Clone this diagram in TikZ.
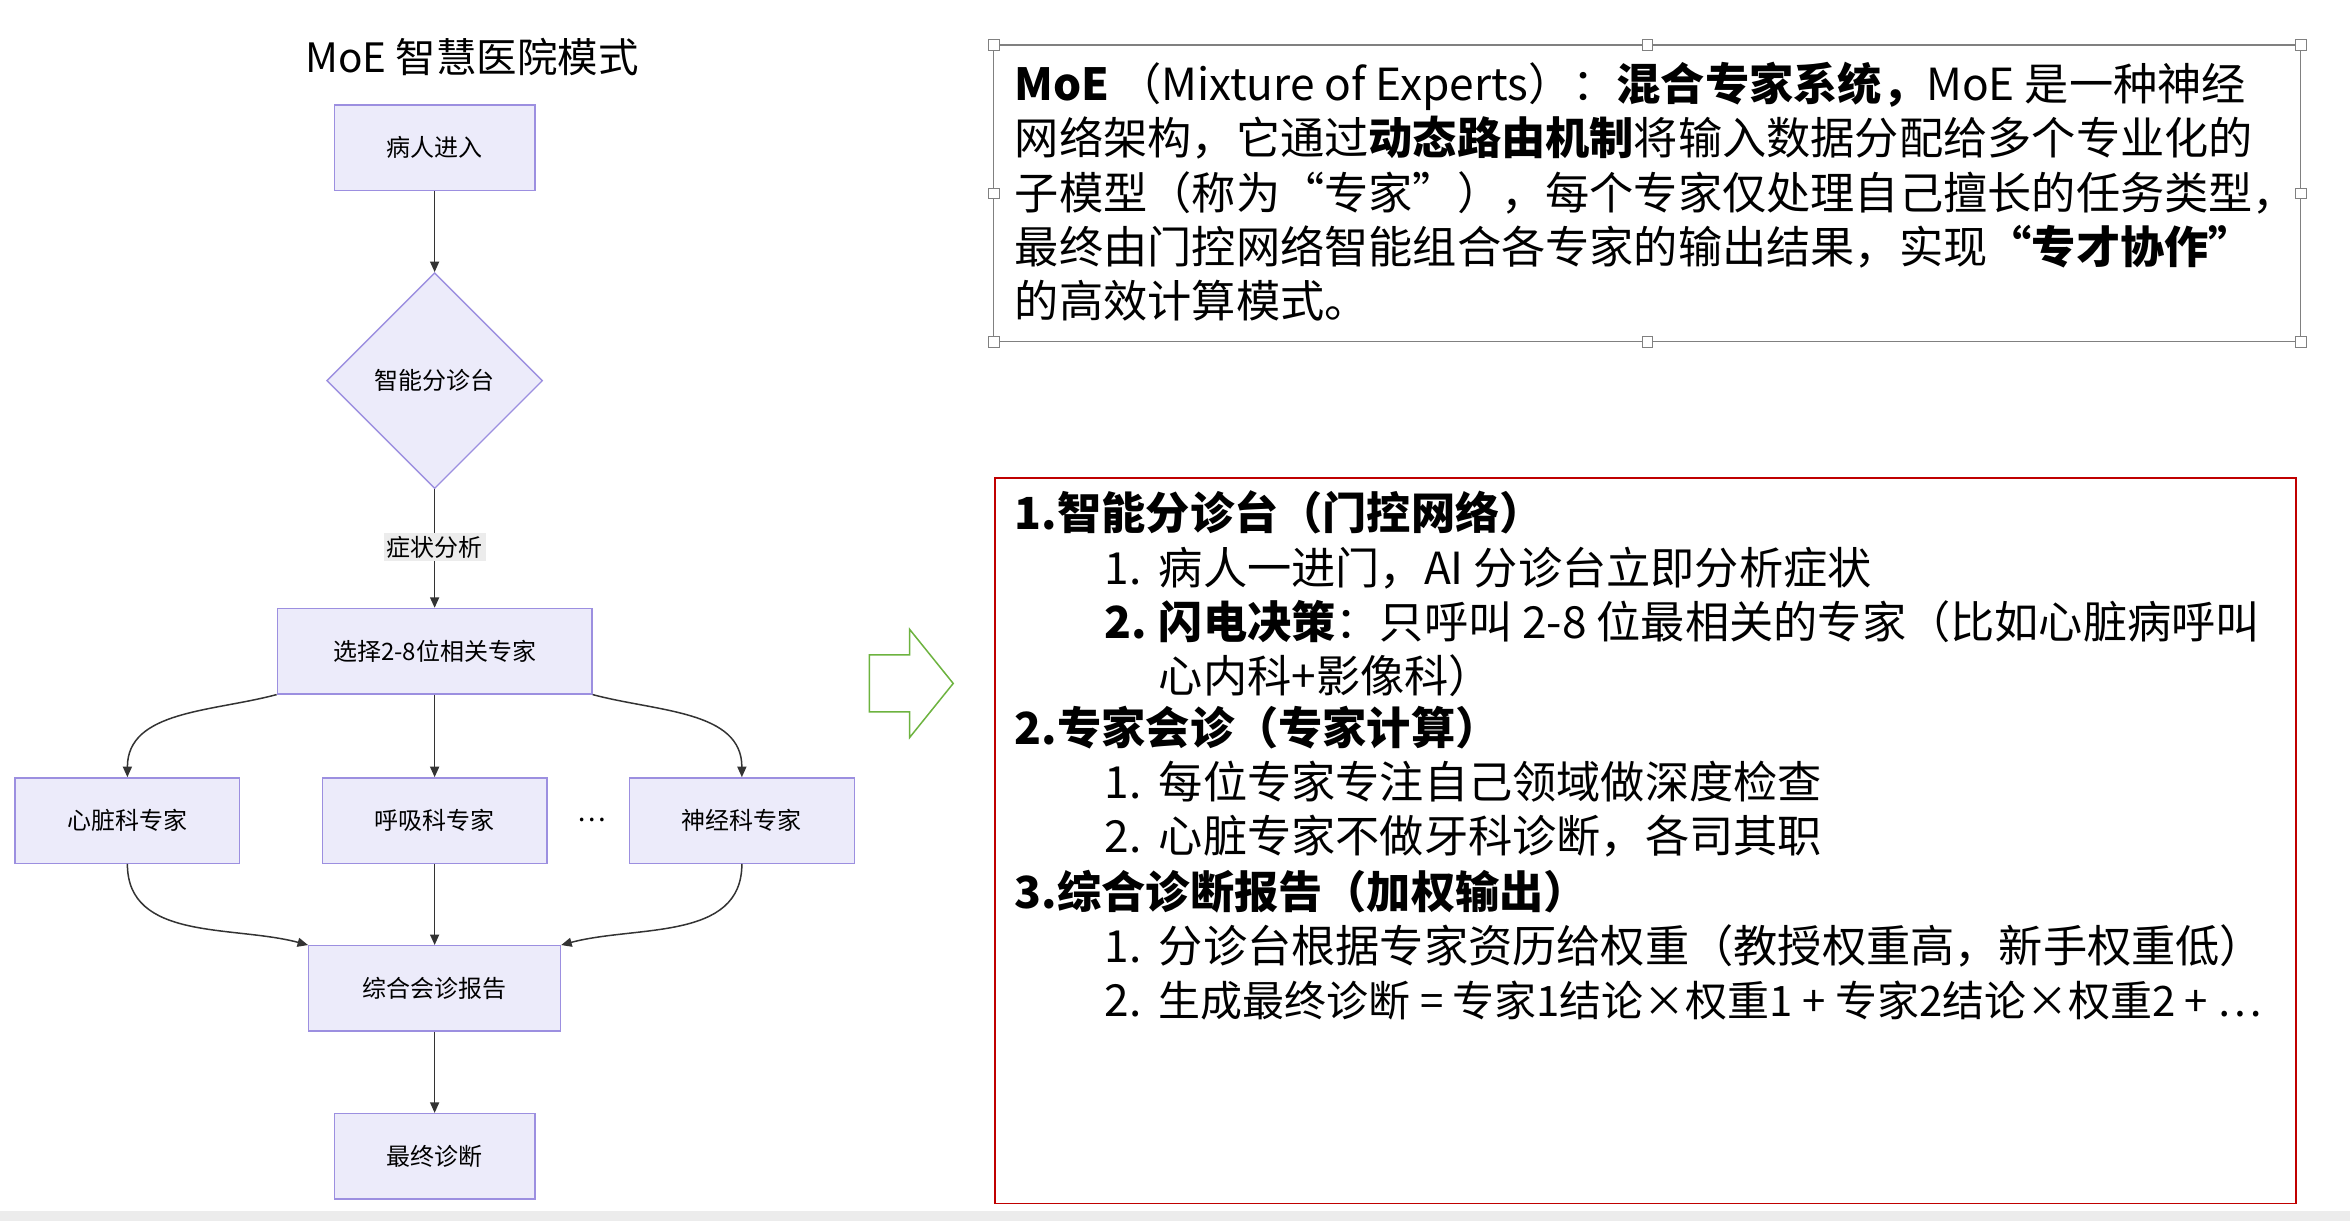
\documentclass[tikz,border=0pt]{standalone}
\usepackage{fontspec}
\setmainfont{Noto Sans CJK SC}
\usetikzlibrary{shapes.geometric,arrows.meta}
\begin{document}
\begin{tikzpicture}[x=1pt,y=-1pt,
  fbox/.style={draw=flowline,fill=flowfill,line width=0.9pt,minimum height=57pt,font=\fontsize{16}{18}\selectfont,inner sep=0pt},
  conn/.style={draw=arrowgray,line width=1pt,-{Triangle[length=7pt,width=6pt]}},
  tl/.style={anchor=base west,font=\fontsize{29.5}{34}\selectfont,inner sep=0pt},
  handle/.style={draw=gray,fill=white,minimum size=7pt,inner sep=0pt}]
\definecolor{flowline}{HTML}{9C8FE0}
\definecolor{flowfill}{HTML}{ECEBFA}
\definecolor{arrowgray}{HTML}{333333}
\definecolor{gr}{HTML}{6DB33F}
\definecolor{rd}{HTML}{C00000}
\useasboundingbox (0,0) rectangle (1568,815);
\fill[white] (0,0) rectangle (1568,815);
\fill[gray!15] (0,808) rectangle (1568,815);
\node[font=\fontsize{27}{30}\selectfont] (title) at (315,38) {MoE 智慧医院模式};
\node[fbox,minimum width=134pt] (a) at (290,98.5) {病人进入};
\node[fbox,diamond,minimum width=144pt,minimum height=144pt] (b) at (290,254) {智能分诊台};
\node[fbox,minimum width=210pt] (c) at (290,434.5) {选择2-8位相关专家};
\node[fill=gray!15,font=\fontsize{16}{18}\selectfont,inner sep=2pt] (lab) at (290,365) {症状分析};
\node[fbox,minimum width=150pt] (d1) at (85,547.5) {心脏科专家};
\node[fbox,minimum width=150pt] (d2) at (290,547.5) {呼吸科专家};
\node[fbox,minimum width=150pt] (d3) at (495,547.5) {神经科专家};
\node[font=\fontsize{18}{20}\selectfont] (dots) at (395,547) {…};
\node[fbox,minimum width=168pt] (e) at (290,659.5) {综合会诊报告};
\node[fbox,minimum width=134pt] (f) at (290,771.5) {最终诊断};
\draw[conn] (a) -- (b);
\draw[draw=arrowgray,line width=1pt] (b) -- (lab);
\draw[conn] (lab) -- (c);
\draw[conn] (c.south) -- (d2);
\draw[conn] (c.south west) to[out=195,in=90] (d1.north);
\draw[conn] (c.south east) to[out=-15,in=90] (d3.north);
\draw[conn] (d2) -- (e);
\draw[conn] (d1.south) to[out=-90,in=165] (e.north west);
\draw[conn] (d3.south) to[out=-90,in=15] (e.north east);
\draw[conn] (e) -- (f);
% green block arrow
\draw[gr,line width=1pt] (580,437) -- (607,437) -- (607,420) -- (636,456) -- (607,492) -- (607,475) -- (580,475) -- cycle;
% top box
\draw[gray,line width=1pt] (663,30) rectangle (1535,228);
\foreach \p in {(663,30),(1099,30),(1535,30),(663,129),(1535,129),(663,228),(1099,228),(1535,228)} \node[handle] at \p {};
\node[tl] (t1) at (677,67) {\textbf{MoE}\,（Mixture of Experts）：{\bfseries 混合专家系统，}MoE 是一种神经};
\node[tl] (t2) at (677,103) {网络架构，它通过{\bfseries 动态路由机制}将输入数据分配给多个专业化的};
\node[tl] (t3) at (677,140) {子模型（称为“专家”），每个专家仅处理自己擅长的任务类型，};
\node[tl] (t4) at (677,176) {最终由门控网络智能组合各专家的输出结果，实现{\bfseries “专才协作”}};
\node[tl] (t5) at (677,212) {的高效计算模式。};
% red box
\draw[rd,line width=1pt] (664,319) rectangle (1532,803);
\node[tl,font=\fontsize{29.5}{34}\bfseries] (r1) at (677,353) {1.智能分诊台（门控网络）};
\node[tl] at (737,390) {1.};
\node[tl] (r2) at (773,390) {病人一进门，AI 分诊台立即分析症状};
\node[tl] at (737,426) {\textbf{2.}};
\node[tl] (r3) at (773,426) {{\bfseries 闪电决策}：只呼叫 2-8 位最相关的专家（比如心脏病呼叫};
\node[tl] (r4) at (773,462) {心内科+影像科）};
\node[tl,font=\fontsize{29.5}{34}\bfseries] (r5) at (677,497) {2.专家会诊（专家计算）};
\node[tl] at (737,533) {1.};
\node[tl] (r6) at (773,533) {每位专家专注自己领域做深度检查};
\node[tl] at (737,569) {2.};
\node[tl] (r7) at (773,569) {心脏专家不做牙科诊断，各司其职};
\node[tl,font=\fontsize{29.5}{34}\bfseries] (r8) at (677,606) {3.综合诊断报告（加权输出）};
\node[tl] at (737,642) {1.};
\node[tl] (r9) at (773,642) {分诊台根据专家资历给权重（教授权重高，新手权重低）};
\node[tl] at (737,678) {2.};
\node[tl,font=\fontsize{28}{34}\selectfont] (r10) at (773,678) {生成最终诊断 = 专家1结论×权重1 + 专家2结论×权重2 + …};
\end{tikzpicture}
\end{document}
